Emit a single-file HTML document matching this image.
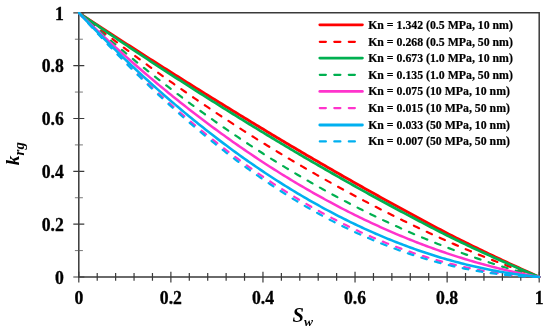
<!DOCTYPE html>
<html><head><meta charset="utf-8"><title>krg vs Sw</title>
<style>html,body{margin:0;padding:0;background:#fff}svg{display:block}</style></head>
<body>
<svg width="550" height="330" viewBox="0 0 550 330">
<rect width="550" height="330" fill="#fff"/>
<g stroke="#3a3a3a" stroke-width="1.5" fill="none">
<path d="M78.8 12.8 H539.2 V277.0 H78.8 Z"/>
<path stroke-width="1.2" d="M78.80 271.8 V282.4 M97.22 273.1 V280.7 M115.63 273.1 V280.7 M134.05 273.1 V280.7 M152.46 273.1 V280.7 M170.88 271.8 V282.4 M189.30 273.1 V280.7 M207.71 273.1 V280.7 M226.13 273.1 V280.7 M244.54 273.1 V280.7 M262.96 271.8 V282.4 M281.38 273.1 V280.7 M299.79 273.1 V280.7 M318.21 273.1 V280.7 M336.62 273.1 V280.7 M355.04 271.8 V282.4 M373.46 273.1 V280.7 M391.87 273.1 V280.7 M410.29 273.1 V280.7 M428.70 273.1 V280.7 M447.12 271.8 V282.4 M465.54 273.1 V280.7 M483.95 273.1 V280.7 M502.37 273.1 V280.7 M520.78 273.1 V280.7 M539.20 271.8 V282.4 M73.3 277.00 H84.3 M73.3 224.16 H84.3 M73.3 171.32 H84.3 M73.3 118.48 H84.3 M73.3 65.64 H84.3 M73.3 12.80 H84.3"/>
<path stroke-width="0.8" stroke="#555" d="M74.9 250.58 H82.9 M74.9 197.74 H82.9 M74.9 144.90 H82.9 M74.9 92.06 H82.9 M74.9 39.22 H82.9"/>
</g>
<defs><clipPath id="pa"><rect x="78.0" y="12.1" width="600" height="400"/></clipPath></defs>
<g clip-path="url(#pa)">
<path d="M78.80,12.80 L81.10,14.32 L83.40,15.84 L85.71,17.36 L88.01,18.87 L90.31,20.38 L92.61,21.89 L94.91,23.40 L97.22,24.91 L99.52,26.42 L101.82,27.92 L104.12,29.42 L106.42,30.92 L108.73,32.42 L111.03,33.92 L113.33,35.41 L115.63,36.91 L117.93,38.40 L120.24,39.89 L122.54,41.38 L124.84,42.87 L127.14,44.35 L129.44,45.83 L131.75,47.32 L134.05,48.80 L136.35,50.27 L138.65,51.75 L140.95,53.23 L143.26,54.70 L145.56,56.17 L147.86,57.64 L150.16,59.11 L152.46,60.57 L154.77,62.04 L157.07,63.50 L159.37,64.96 L161.67,66.42 L163.97,67.88 L166.28,69.34 L168.58,70.79 L170.88,72.24 L173.18,73.70 L175.48,75.15 L177.79,76.59 L180.09,78.04 L182.39,79.49 L184.69,80.93 L186.99,82.37 L189.30,83.81 L191.60,85.25 L193.90,86.69 L196.20,88.13 L198.50,89.56 L200.81,91.00 L203.11,92.43 L205.41,93.86 L207.71,95.29 L210.01,96.72 L212.32,98.14 L214.62,99.57 L216.92,100.99 L219.22,102.41 L221.52,103.83 L223.83,105.25 L226.13,106.67 L228.43,108.08 L230.73,109.50 L233.03,110.91 L235.34,112.32 L237.64,113.73 L239.94,115.13 L242.24,116.54 L244.54,117.94 L246.85,119.35 L249.15,120.75 L251.45,122.15 L253.75,123.54 L256.05,124.94 L258.36,126.33 L260.66,127.72 L262.96,129.11 L265.26,130.50 L267.56,131.89 L269.87,133.27 L272.17,134.66 L274.47,136.04 L276.77,137.41 L279.07,138.79 L281.38,140.16 L283.68,141.54 L285.98,142.91 L288.28,144.28 L290.58,145.64 L292.89,147.00 L295.19,148.37 L297.49,149.73 L299.79,151.08 L302.09,152.44 L304.40,153.79 L306.70,155.14 L309.00,156.49 L311.30,157.83 L313.60,159.18 L315.91,160.52 L318.21,161.86 L320.51,163.19 L322.81,164.53 L325.11,165.86 L327.42,167.19 L329.72,168.52 L332.02,169.84 L334.32,171.16 L336.62,172.49 L338.93,173.80 L341.23,175.12 L343.53,176.43 L345.83,177.75 L348.13,179.06 L350.44,180.36 L352.74,181.67 L355.04,182.97 L357.34,184.27 L359.64,185.57 L361.95,186.87 L364.25,188.16 L366.55,189.45 L368.85,190.74 L371.15,192.03 L373.46,193.31 L375.76,194.59 L378.06,195.87 L380.36,197.15 L382.66,198.42 L384.97,199.69 L387.27,200.96 L389.57,202.23 L391.87,203.49 L394.17,204.75 L396.48,206.01 L398.78,207.26 L401.08,208.52 L403.38,209.77 L405.68,211.02 L407.99,212.26 L410.29,213.51 L412.59,214.75 L414.89,216.00 L417.19,217.24 L419.50,218.47 L421.80,219.72 L424.10,220.96 L426.40,222.21 L428.70,223.46 L431.01,224.71 L433.31,225.95 L435.61,227.19 L437.91,228.43 L440.21,229.65 L442.52,230.86 L444.82,232.06 L447.12,233.25 L449.42,234.43 L451.72,235.60 L454.03,236.76 L456.33,237.93 L458.63,239.08 L460.93,240.23 L463.23,241.38 L465.54,242.53 L467.84,243.66 L470.14,244.80 L472.44,245.93 L474.74,247.05 L477.05,248.17 L479.35,249.29 L481.65,250.40 L483.95,251.51 L486.25,252.62 L488.56,253.72 L490.86,254.81 L493.16,255.91 L495.46,256.99 L497.76,258.08 L500.07,259.16 L502.37,260.24 L504.67,261.31 L506.97,262.38 L509.27,263.45 L511.58,264.51 L513.88,265.57 L516.18,266.63 L518.48,267.68 L520.78,268.73 L523.09,269.78 L525.39,270.82 L527.69,271.86 L529.99,272.89 L532.29,273.92 L534.60,274.95 L536.90,275.98 L539.20,277.00" fill="none" stroke="#ff0000" stroke-width="2.9" stroke-linecap="round" stroke-linejoin="round"/>
<path d="M78.80,12.80 L81.10,14.62 L83.40,16.44 L85.71,18.26 L88.01,20.07 L90.31,21.87 L92.61,23.67 L94.91,25.47 L97.22,27.26 L99.52,29.04 L101.82,30.82 L104.12,32.60 L106.42,34.37 L108.73,36.13 L111.03,37.89 L113.33,39.64 L115.63,41.39 L117.93,43.14 L120.24,44.87 L122.54,46.61 L124.84,48.34 L127.14,50.06 L129.44,51.78 L131.75,53.49 L134.05,55.20 L136.35,56.91 L138.65,58.60 L140.95,60.30 L143.26,61.98 L145.56,63.67 L147.86,65.35 L150.16,67.02 L152.46,68.69 L154.77,70.35 L157.07,72.01 L159.37,73.66 L161.67,75.31 L163.97,76.95 L166.28,78.59 L168.58,80.22 L170.88,81.85 L173.18,83.47 L175.48,85.09 L177.79,86.70 L180.09,88.31 L182.39,89.91 L184.69,91.51 L186.99,93.10 L189.30,94.69 L191.60,96.27 L193.90,97.85 L196.20,99.42 L198.50,100.99 L200.81,102.55 L203.11,104.11 L205.41,105.66 L207.71,107.21 L210.01,108.75 L212.32,110.29 L214.62,111.83 L216.92,113.35 L219.22,114.88 L221.52,116.40 L223.83,117.91 L226.13,119.42 L228.43,120.92 L230.73,122.42 L233.03,123.91 L235.34,125.40 L237.64,126.89 L239.94,128.36 L242.24,129.84 L244.54,131.31 L246.85,132.77 L249.15,134.23 L251.45,135.68 L253.75,137.13 L256.05,138.58 L258.36,140.01 L260.66,141.45 L262.96,142.88 L265.26,144.30 L267.56,145.72 L269.87,147.13 L272.17,148.54 L274.47,149.95 L276.77,151.35 L279.07,152.74 L281.38,154.13 L283.68,155.51 L285.98,156.89 L288.28,158.26 L290.58,159.63 L292.89,161.00 L295.19,162.36 L297.49,163.71 L299.79,165.06 L302.09,166.40 L304.40,167.74 L306.70,169.07 L309.00,170.40 L311.30,171.73 L313.60,173.04 L315.91,174.36 L318.21,175.67 L320.51,176.97 L322.81,178.27 L325.11,179.57 L327.42,180.86 L329.72,182.15 L332.02,183.43 L334.32,184.70 L336.62,185.97 L338.93,187.24 L341.23,188.50 L343.53,189.76 L345.83,191.01 L348.13,192.26 L350.44,193.50 L352.74,194.74 L355.04,195.97 L357.34,197.20 L359.64,198.42 L361.95,199.64 L364.25,200.85 L366.55,202.05 L368.85,203.26 L371.15,204.45 L373.46,205.64 L375.76,206.83 L378.06,208.01 L380.36,209.18 L382.66,210.35 L384.97,211.52 L387.27,212.68 L389.57,213.84 L391.87,214.99 L394.17,216.13 L396.48,217.27 L398.78,218.41 L401.08,219.54 L403.38,220.67 L405.68,221.79 L407.99,222.90 L410.29,224.01 L412.59,225.12 L414.89,226.22 L417.19,227.31 L419.50,228.40 L421.80,229.48 L424.10,230.56 L426.40,231.64 L428.70,232.71 L431.01,233.77 L433.31,234.83 L435.61,235.88 L437.91,236.93 L440.21,237.97 L442.52,239.01 L444.82,240.04 L447.12,241.07 L449.42,242.09 L451.72,243.11 L454.03,244.12 L456.33,245.13 L458.63,246.13 L460.93,247.12 L463.23,248.11 L465.54,249.10 L467.84,250.08 L470.14,251.05 L472.44,252.01 L474.74,252.97 L477.05,253.92 L479.35,254.87 L481.65,255.80 L483.95,256.73 L486.25,257.66 L488.56,258.57 L490.86,259.48 L493.16,260.38 L495.46,261.27 L497.76,262.16 L500.07,263.03 L502.37,263.90 L504.67,264.77 L506.97,265.63 L509.27,266.48 L511.58,267.33 L513.88,268.17 L516.18,269.00 L518.48,269.83 L520.78,270.65 L523.09,271.46 L525.39,272.27 L527.69,273.08 L529.99,273.87 L532.29,274.66 L534.60,275.45 L536.90,276.23 L539.20,277.00" fill="none" stroke="#ff0000" stroke-width="2.2" stroke-linecap="round" stroke-linejoin="round" stroke-dasharray="5.7 8.51"/>
<path d="M78.80,12.80 L81.10,14.39 L83.40,15.99 L85.71,17.58 L88.01,19.16 L90.31,20.75 L92.61,22.33 L94.91,23.91 L97.22,25.48 L99.52,27.06 L101.82,28.63 L104.12,30.19 L106.42,31.76 L108.73,33.32 L111.03,34.88 L113.33,36.44 L115.63,38.00 L117.93,39.55 L120.24,41.10 L122.54,42.64 L124.84,44.19 L127.14,45.73 L129.44,47.27 L131.75,48.81 L134.05,50.34 L136.35,51.87 L138.65,53.40 L140.95,54.93 L143.26,56.45 L145.56,57.97 L147.86,59.49 L150.16,61.01 L152.46,62.52 L154.77,64.03 L157.07,65.54 L159.37,67.05 L161.67,68.55 L163.97,70.05 L166.28,71.55 L168.58,73.05 L170.88,74.54 L173.18,76.03 L175.48,77.52 L177.79,79.00 L180.09,80.49 L182.39,81.97 L184.69,83.45 L186.99,84.93 L189.30,86.40 L191.60,87.87 L193.90,89.35 L196.20,90.81 L198.50,92.28 L200.81,93.74 L203.11,95.21 L205.41,96.67 L207.71,98.12 L210.01,99.58 L212.32,101.03 L214.62,102.48 L216.92,103.93 L219.22,105.38 L221.52,106.82 L223.83,108.27 L226.13,109.71 L228.43,111.15 L230.73,112.58 L233.03,114.01 L235.34,115.45 L237.64,116.87 L239.94,118.30 L242.24,119.72 L244.54,121.15 L246.85,122.57 L249.15,123.98 L251.45,125.40 L253.75,126.81 L256.05,128.22 L258.36,129.63 L260.66,131.03 L262.96,132.43 L265.26,133.83 L267.56,135.23 L269.87,136.63 L272.17,138.02 L274.47,139.41 L276.77,140.79 L279.07,142.18 L281.38,143.56 L283.68,144.94 L285.98,146.31 L288.28,147.69 L290.58,149.06 L292.89,150.42 L295.19,151.79 L297.49,153.15 L299.79,154.51 L302.09,155.86 L304.40,157.22 L306.70,158.56 L309.00,159.91 L311.30,161.25 L313.60,162.60 L315.91,163.93 L318.21,165.27 L320.51,166.60 L322.81,167.93 L325.11,169.26 L327.42,170.59 L329.72,171.91 L332.02,173.23 L334.32,174.54 L336.62,175.86 L338.93,177.17 L341.23,178.48 L343.53,179.78 L345.83,181.09 L348.13,182.39 L350.44,183.68 L352.74,184.98 L355.04,186.27 L357.34,187.56 L359.64,188.84 L361.95,190.12 L364.25,191.40 L366.55,192.68 L368.85,193.95 L371.15,195.22 L373.46,196.49 L375.76,197.75 L378.06,199.01 L380.36,200.27 L382.66,201.53 L384.97,202.78 L387.27,204.02 L389.57,205.27 L391.87,206.51 L394.17,207.75 L396.48,208.98 L398.78,210.22 L401.08,211.45 L403.38,212.67 L405.68,213.90 L407.99,215.12 L410.29,216.34 L412.59,217.55 L414.89,218.76 L417.19,219.97 L419.50,221.18 L421.80,222.38 L424.10,223.59 L426.40,224.80 L428.70,226.00 L431.01,227.21 L433.31,228.40 L435.61,229.60 L437.91,230.78 L440.21,231.96 L442.52,233.13 L444.82,234.29 L447.12,235.43 L449.42,236.57 L451.72,237.70 L454.03,238.83 L456.33,239.95 L458.63,241.07 L460.93,242.18 L463.23,243.29 L465.54,244.39 L467.84,245.49 L470.14,246.58 L472.44,247.66 L474.74,248.74 L477.05,249.82 L479.35,250.89 L481.65,251.95 L483.95,253.01 L486.25,254.06 L488.56,255.10 L490.86,256.14 L493.16,257.18 L495.46,258.21 L497.76,259.23 L500.07,260.25 L502.37,261.27 L504.67,262.28 L506.97,263.28 L509.27,264.29 L511.58,265.29 L513.88,266.28 L516.18,267.28 L518.48,268.26 L520.78,269.25 L523.09,270.23 L525.39,271.21 L527.69,272.18 L529.99,273.15 L532.29,274.12 L534.60,275.08 L536.90,276.04 L539.20,277.00" fill="none" stroke="#00b050" stroke-width="2.7" stroke-linecap="round" stroke-linejoin="round"/>
<path d="M78.80,12.80 L81.10,14.85 L83.40,16.89 L85.71,18.92 L88.01,20.94 L90.31,22.96 L92.61,24.97 L94.91,26.98 L97.22,28.97 L99.52,30.96 L101.82,32.94 L104.12,34.92 L106.42,36.88 L108.73,38.84 L111.03,40.80 L113.33,42.74 L115.63,44.68 L117.93,46.61 L120.24,48.53 L122.54,50.45 L124.84,52.36 L127.14,54.26 L129.44,56.15 L131.75,58.04 L134.05,59.92 L136.35,61.79 L138.65,63.65 L140.95,65.51 L143.26,67.36 L145.56,69.21 L147.86,71.04 L150.16,72.87 L152.46,74.69 L154.77,76.50 L157.07,78.31 L159.37,80.11 L161.67,81.90 L163.97,83.69 L166.28,85.46 L168.58,87.23 L170.88,88.99 L173.18,90.75 L175.48,92.50 L177.79,94.24 L180.09,95.97 L182.39,97.70 L184.69,99.42 L186.99,101.13 L189.30,102.83 L191.60,104.53 L193.90,106.22 L196.20,107.90 L198.50,109.58 L200.81,111.24 L203.11,112.90 L205.41,114.56 L207.71,116.20 L210.01,117.84 L212.32,119.47 L214.62,121.10 L216.92,122.71 L219.22,124.32 L221.52,125.92 L223.83,127.52 L226.13,129.11 L228.43,130.69 L230.73,132.26 L233.03,133.82 L235.34,135.38 L237.64,136.93 L239.94,138.48 L242.24,140.01 L244.54,141.54 L246.85,143.06 L249.15,144.58 L251.45,146.09 L253.75,147.59 L256.05,149.08 L258.36,150.56 L260.66,152.04 L262.96,153.51 L265.26,154.98 L267.56,156.43 L269.87,157.88 L272.17,159.32 L274.47,160.76 L276.77,162.18 L279.07,163.60 L281.38,165.01 L283.68,166.42 L285.98,167.82 L288.28,169.21 L290.58,170.59 L292.89,171.97 L295.19,173.33 L297.49,174.70 L299.79,176.05 L302.09,177.40 L304.40,178.74 L306.70,180.07 L309.00,181.39 L311.30,182.71 L313.60,184.02 L315.91,185.32 L318.21,186.62 L320.51,187.91 L322.81,189.19 L325.11,190.46 L327.42,191.73 L329.72,192.99 L332.02,194.24 L334.32,195.48 L336.62,196.72 L338.93,197.95 L341.23,199.17 L343.53,200.39 L345.83,201.59 L348.13,202.79 L350.44,203.99 L352.74,205.17 L355.04,206.35 L357.34,207.52 L359.64,208.69 L361.95,209.84 L364.25,210.99 L366.55,212.14 L368.85,213.27 L371.15,214.40 L373.46,215.52 L375.76,216.63 L378.06,217.74 L380.36,218.84 L382.66,219.93 L384.97,221.01 L387.27,222.09 L389.57,223.16 L391.87,224.22 L394.17,225.27 L396.48,226.32 L398.78,227.36 L401.08,228.39 L403.38,229.42 L405.68,230.44 L407.99,231.45 L410.29,232.45 L412.59,233.45 L414.89,234.44 L417.19,235.42 L419.50,236.39 L421.80,237.36 L424.10,238.32 L426.40,239.27 L428.70,240.22 L431.01,241.15 L433.31,242.08 L435.61,243.01 L437.91,243.92 L440.21,244.83 L442.52,245.73 L444.82,246.63 L447.12,247.51 L449.42,248.39 L451.72,249.27 L454.03,250.13 L456.33,250.99 L458.63,251.84 L460.93,252.68 L463.23,253.52 L465.54,254.35 L467.84,255.17 L470.14,255.98 L472.44,256.79 L474.74,257.59 L477.05,258.38 L479.35,259.16 L481.65,259.94 L483.95,260.71 L486.25,261.47 L488.56,262.23 L490.86,262.98 L493.16,263.72 L495.46,264.45 L497.76,265.18 L500.07,265.90 L502.37,266.61 L504.67,267.31 L506.97,268.01 L509.27,268.70 L511.58,269.38 L513.88,270.06 L516.18,270.72 L518.48,271.38 L520.78,272.04 L523.09,272.68 L525.39,273.32 L527.69,273.95 L529.99,274.58 L532.29,275.19 L534.60,275.80 L536.90,276.41 L539.20,277.00" fill="none" stroke="#00b050" stroke-width="2.2" stroke-linecap="round" stroke-linejoin="round" stroke-dasharray="5.7 8.51"/>
<path d="M78.80,12.80 L81.10,15.03 L83.40,17.25 L85.71,19.46 L88.01,21.66 L90.31,23.85 L92.61,26.03 L94.91,28.20 L97.22,30.36 L99.52,32.52 L101.82,34.66 L104.12,36.80 L106.42,38.93 L108.73,41.05 L111.03,43.16 L113.33,45.26 L115.63,47.35 L117.93,49.43 L120.24,51.50 L122.54,53.56 L124.84,55.62 L127.14,57.66 L129.44,59.70 L131.75,61.73 L134.05,63.75 L136.35,65.75 L138.65,67.75 L140.95,69.74 L143.26,71.73 L145.56,73.70 L147.86,75.66 L150.16,77.62 L152.46,79.56 L154.77,81.50 L157.07,83.42 L159.37,85.34 L161.67,87.25 L163.97,89.15 L166.28,91.04 L168.58,92.92 L170.88,94.79 L173.18,96.66 L175.48,98.51 L177.79,100.35 L180.09,102.19 L182.39,104.02 L184.69,105.83 L186.99,107.64 L189.30,109.44 L191.60,111.23 L193.90,113.01 L196.20,114.79 L198.50,116.55 L200.81,118.30 L203.11,120.05 L205.41,121.78 L207.71,123.51 L210.01,125.23 L212.32,126.93 L214.62,128.63 L216.92,130.32 L219.22,132.00 L221.52,133.68 L223.83,135.34 L226.13,136.99 L228.43,138.64 L230.73,140.27 L233.03,141.90 L235.34,143.52 L237.64,145.12 L239.94,146.72 L242.24,148.31 L244.54,149.89 L246.85,151.46 L249.15,153.03 L251.45,154.58 L253.75,156.12 L256.05,157.66 L258.36,159.19 L260.66,160.70 L262.96,162.21 L265.26,163.71 L267.56,165.20 L269.87,166.68 L272.17,168.15 L274.47,169.61 L276.77,171.06 L279.07,172.51 L281.38,173.94 L283.68,175.37 L285.98,176.79 L288.28,178.19 L290.58,179.59 L292.89,180.98 L295.19,182.36 L297.49,183.73 L299.79,185.09 L302.09,186.45 L304.40,187.79 L306.70,189.13 L309.00,190.45 L311.30,191.77 L313.60,193.08 L315.91,194.37 L318.21,195.66 L320.51,196.94 L322.81,198.21 L325.11,199.48 L327.42,200.73 L329.72,201.97 L332.02,203.21 L334.32,204.43 L336.62,205.65 L338.93,206.85 L341.23,208.05 L343.53,209.24 L345.83,210.42 L348.13,211.59 L350.44,212.75 L352.74,213.91 L355.04,215.05 L357.34,216.18 L359.64,217.31 L361.95,218.43 L364.25,219.53 L366.55,220.63 L368.85,221.72 L371.15,222.80 L373.46,223.87 L375.76,224.93 L378.06,225.98 L380.36,227.03 L382.66,228.06 L384.97,229.08 L387.27,230.10 L389.57,231.11 L391.87,232.10 L394.17,233.09 L396.48,234.07 L398.78,235.04 L401.08,236.00 L403.38,236.96 L405.68,237.90 L407.99,238.83 L410.29,239.76 L412.59,240.67 L414.89,241.58 L417.19,242.48 L419.50,243.36 L421.80,244.24 L424.10,245.11 L426.40,245.97 L428.70,246.83 L431.01,247.67 L433.31,248.50 L435.61,249.33 L437.91,250.14 L440.21,250.95 L442.52,251.75 L444.82,252.53 L447.12,253.31 L449.42,254.08 L451.72,254.84 L454.03,255.60 L456.33,256.34 L458.63,257.07 L460.93,257.80 L463.23,258.51 L465.54,259.22 L467.84,259.91 L470.14,260.60 L472.44,261.28 L474.74,261.95 L477.05,262.61 L479.35,263.26 L481.65,263.90 L483.95,264.54 L486.25,265.16 L488.56,265.78 L490.86,266.38 L493.16,266.98 L495.46,267.57 L497.76,268.14 L500.07,268.71 L502.37,269.27 L504.67,269.83 L506.97,270.37 L509.27,270.90 L511.58,271.42 L513.88,271.94 L516.18,272.44 L518.48,272.94 L520.78,273.43 L523.09,273.91 L525.39,274.38 L527.69,274.84 L529.99,275.29 L532.29,275.73 L534.60,276.16 L536.90,276.59 L539.20,277.00" fill="none" stroke="#ff33cc" stroke-width="2.5" stroke-linecap="round" stroke-linejoin="round"/>
<path d="M78.80,12.80 L81.10,15.33 L83.40,17.84 L85.71,20.34 L88.01,22.83 L90.31,25.31 L92.61,27.78 L94.91,30.23 L97.22,32.68 L99.52,35.11 L101.82,37.52 L104.12,39.93 L106.42,42.32 L108.73,44.70 L111.03,47.07 L113.33,49.43 L115.63,51.78 L117.93,54.11 L120.24,56.43 L122.54,58.74 L124.84,61.03 L127.14,63.32 L129.44,65.59 L131.75,67.85 L134.05,70.10 L136.35,72.34 L138.65,74.56 L140.95,76.77 L143.26,78.97 L145.56,81.16 L147.86,83.33 L150.16,85.50 L152.46,87.65 L154.77,89.79 L157.07,91.91 L159.37,94.03 L161.67,96.13 L163.97,98.22 L166.28,100.30 L168.58,102.37 L170.88,104.42 L173.18,106.46 L175.48,108.49 L177.79,110.51 L180.09,112.52 L182.39,114.51 L184.69,116.49 L186.99,118.46 L189.30,120.42 L191.60,122.36 L193.90,124.30 L196.20,126.22 L198.50,128.13 L200.81,130.02 L203.11,131.91 L205.41,133.78 L207.71,135.64 L210.01,137.49 L212.32,139.33 L214.62,141.15 L216.92,142.96 L219.22,144.76 L221.52,146.55 L223.83,148.32 L226.13,150.09 L228.43,151.84 L230.73,153.58 L233.03,155.30 L235.34,157.02 L237.64,158.72 L239.94,160.41 L242.24,162.09 L244.54,163.76 L246.85,165.41 L249.15,167.05 L251.45,168.68 L253.75,170.30 L256.05,171.91 L258.36,173.50 L260.66,175.08 L262.96,176.65 L265.26,178.21 L267.56,179.76 L269.87,181.29 L272.17,182.81 L274.47,184.32 L276.77,185.81 L279.07,187.30 L281.38,188.77 L283.68,190.23 L285.98,191.68 L288.28,193.12 L290.58,194.54 L292.89,195.95 L295.19,197.35 L297.49,198.74 L299.79,200.12 L302.09,201.48 L304.40,202.83 L306.70,204.17 L309.00,205.50 L311.30,206.81 L313.60,208.11 L315.91,209.40 L318.21,210.68 L320.51,211.95 L322.81,213.20 L325.11,214.45 L327.42,215.68 L329.72,216.89 L332.02,218.10 L334.32,219.29 L336.62,220.48 L338.93,221.65 L341.23,222.80 L343.53,223.95 L345.83,225.08 L348.13,226.20 L350.44,227.31 L352.74,228.41 L355.04,229.49 L357.34,230.57 L359.64,231.63 L361.95,232.67 L364.25,233.71 L366.55,234.73 L368.85,235.75 L371.15,236.75 L373.46,237.73 L375.76,238.71 L378.06,239.67 L380.36,240.62 L382.66,241.56 L384.97,242.49 L387.27,243.41 L389.57,244.31 L391.87,245.20 L394.17,246.08 L396.48,246.94 L398.78,247.80 L401.08,248.64 L403.38,249.47 L405.68,250.29 L407.99,251.10 L410.29,251.89 L412.59,252.67 L414.89,253.44 L417.19,254.20 L419.50,254.94 L421.80,255.68 L424.10,256.40 L426.40,257.11 L428.70,257.80 L431.01,258.49 L433.31,259.16 L435.61,259.82 L437.91,260.47 L440.21,261.11 L442.52,261.73 L444.82,262.34 L447.12,262.94 L449.42,263.53 L451.72,264.11 L454.03,264.67 L456.33,265.22 L458.63,265.76 L460.93,266.29 L463.23,266.80 L465.54,267.30 L467.84,267.80 L470.14,268.27 L472.44,268.74 L474.74,269.20 L477.05,269.64 L479.35,270.07 L481.65,270.49 L483.95,270.89 L486.25,271.29 L488.56,271.67 L490.86,272.04 L493.16,272.39 L495.46,272.74 L497.76,273.07 L500.07,273.39 L502.37,273.70 L504.67,274.00 L506.97,274.29 L509.27,274.56 L511.58,274.82 L513.88,275.07 L516.18,275.30 L518.48,275.53 L520.78,275.74 L523.09,275.94 L525.39,276.13 L527.69,276.30 L529.99,276.47 L532.29,276.62 L534.60,276.76 L536.90,276.88 L539.20,277.00" fill="none" stroke="#ff33cc" stroke-width="2.2" stroke-linecap="round" stroke-linejoin="round" stroke-dasharray="5.7 8.51"/>
<path d="M78.80,12.80 L81.10,15.22 L83.40,17.63 L85.71,20.02 L88.01,22.41 L90.31,24.78 L92.61,27.14 L94.91,29.50 L97.22,31.84 L99.52,34.17 L101.82,36.49 L104.12,38.79 L106.42,41.09 L108.73,43.38 L111.03,45.65 L113.33,47.91 L115.63,50.17 L117.93,52.41 L120.24,54.64 L122.54,56.86 L124.84,59.07 L127.14,61.27 L129.44,63.45 L131.75,65.63 L134.05,67.79 L136.35,69.95 L138.65,72.09 L140.95,74.22 L143.26,76.34 L145.56,78.45 L147.86,80.55 L150.16,82.64 L152.46,84.71 L154.77,86.78 L157.07,88.83 L159.37,90.87 L161.67,92.91 L163.97,94.93 L166.28,96.94 L168.58,98.94 L170.88,100.93 L173.18,102.90 L175.48,104.87 L177.79,106.82 L180.09,108.77 L182.39,110.70 L184.69,112.62 L186.99,114.53 L189.30,116.43 L191.60,118.32 L193.90,120.20 L196.20,122.07 L198.50,123.92 L200.81,125.77 L203.11,127.60 L205.41,129.42 L207.71,131.24 L210.01,133.04 L212.32,134.83 L214.62,136.60 L216.92,138.37 L219.22,140.13 L221.52,141.87 L223.83,143.61 L226.13,145.33 L228.43,147.04 L230.73,148.75 L233.03,150.44 L235.34,152.12 L237.64,153.78 L239.94,155.44 L242.24,157.09 L244.54,158.72 L246.85,160.35 L249.15,161.96 L251.45,163.56 L253.75,165.15 L256.05,166.73 L258.36,168.30 L260.66,169.86 L262.96,171.41 L265.26,172.94 L267.56,174.47 L269.87,175.98 L272.17,177.49 L274.47,178.98 L276.77,180.46 L279.07,181.93 L281.38,183.39 L283.68,184.84 L285.98,186.27 L288.28,187.70 L290.58,189.11 L292.89,190.52 L295.19,191.91 L297.49,193.29 L299.79,194.66 L302.09,196.02 L304.40,197.37 L306.70,198.71 L309.00,200.03 L311.30,201.35 L313.60,202.65 L315.91,203.95 L318.21,205.23 L320.51,206.50 L322.81,207.76 L325.11,209.01 L327.42,210.25 L329.72,211.48 L332.02,212.69 L334.32,213.90 L336.62,215.09 L338.93,216.27 L341.23,217.45 L343.53,218.61 L345.83,219.76 L348.13,220.90 L350.44,222.03 L352.74,223.14 L355.04,224.25 L357.34,225.34 L359.64,226.43 L361.95,227.50 L364.25,228.56 L366.55,229.61 L368.85,230.65 L371.15,231.68 L373.46,232.70 L375.76,233.71 L378.06,234.70 L380.36,235.69 L382.66,236.66 L384.97,237.62 L387.27,238.57 L389.57,239.51 L391.87,240.44 L394.17,241.36 L396.48,242.27 L398.78,243.17 L401.08,244.05 L403.38,244.93 L405.68,245.79 L407.99,246.64 L410.29,247.48 L412.59,248.31 L414.89,249.13 L417.19,249.94 L419.50,250.74 L421.80,251.52 L424.10,252.30 L426.40,253.06 L428.70,253.82 L431.01,254.56 L433.31,255.29 L435.61,256.01 L437.91,256.72 L440.21,257.42 L442.52,258.10 L444.82,258.78 L447.12,259.45 L449.42,260.10 L451.72,260.74 L454.03,261.37 L456.33,261.99 L458.63,262.60 L460.93,263.20 L463.23,263.79 L465.54,264.37 L467.84,264.93 L470.14,265.49 L472.44,266.03 L474.74,266.56 L477.05,267.09 L479.35,267.60 L481.65,268.10 L483.95,268.58 L486.25,269.06 L488.56,269.53 L490.86,269.98 L493.16,270.43 L495.46,270.86 L497.76,271.28 L500.07,271.70 L502.37,272.10 L504.67,272.48 L506.97,272.86 L509.27,273.23 L511.58,273.59 L513.88,273.93 L516.18,274.27 L518.48,274.59 L520.78,274.90 L523.09,275.20 L525.39,275.49 L527.69,275.77 L529.99,276.04 L532.29,276.30 L534.60,276.54 L536.90,276.78 L539.20,277.00" fill="none" stroke="#00b0f0" stroke-width="2.55" stroke-linecap="round" stroke-linejoin="round"/>
<path d="M78.80,12.80 L81.10,15.38 L83.40,17.95 L85.71,20.51 L88.01,23.05 L90.31,25.59 L92.61,28.10 L94.91,30.61 L97.22,33.10 L99.52,35.59 L101.82,38.05 L104.12,40.51 L106.42,42.95 L108.73,45.38 L111.03,47.80 L113.33,50.21 L115.63,52.60 L117.93,54.98 L120.24,57.34 L122.54,59.70 L124.84,62.04 L127.14,64.37 L129.44,66.68 L131.75,68.99 L134.05,71.28 L136.35,73.56 L138.65,75.82 L140.95,78.08 L143.26,80.32 L145.56,82.54 L147.86,84.76 L150.16,86.96 L152.46,89.15 L154.77,91.33 L157.07,93.49 L159.37,95.64 L161.67,97.78 L163.97,99.91 L166.28,102.02 L168.58,104.12 L170.88,106.21 L173.18,108.28 L175.48,110.35 L177.79,112.40 L180.09,114.43 L182.39,116.46 L184.69,118.47 L186.99,120.47 L189.30,122.46 L191.60,124.43 L193.90,126.39 L196.20,128.34 L198.50,130.28 L200.81,132.20 L203.11,134.11 L205.41,136.01 L207.71,137.89 L210.01,139.76 L212.32,141.62 L214.62,143.47 L216.92,145.31 L219.22,147.13 L221.52,148.94 L223.83,150.73 L226.13,152.52 L228.43,154.29 L230.73,156.05 L233.03,157.79 L235.34,159.52 L237.64,161.25 L239.94,162.95 L242.24,164.65 L244.54,166.33 L246.85,168.00 L249.15,169.66 L251.45,171.30 L253.75,172.93 L256.05,174.55 L258.36,176.16 L260.66,177.75 L262.96,179.33 L265.26,180.90 L267.56,182.46 L269.87,184.00 L272.17,185.53 L274.47,187.05 L276.77,188.55 L279.07,190.04 L281.38,191.52 L283.68,192.99 L285.98,194.44 L288.28,195.89 L290.58,197.31 L292.89,198.73 L295.19,200.13 L297.49,201.52 L299.79,202.90 L302.09,204.27 L304.40,205.62 L306.70,206.96 L309.00,208.29 L311.30,209.60 L313.60,210.90 L315.91,212.19 L318.21,213.47 L320.51,214.73 L322.81,215.99 L325.11,217.22 L327.42,218.45 L329.72,219.66 L332.02,220.86 L334.32,222.05 L336.62,223.23 L338.93,224.39 L341.23,225.54 L343.53,226.68 L345.83,227.80 L348.13,228.91 L350.44,230.01 L352.74,231.10 L355.04,232.17 L357.34,233.23 L359.64,234.28 L361.95,235.32 L364.25,236.34 L366.55,237.35 L368.85,238.35 L371.15,239.33 L373.46,240.31 L375.76,241.27 L378.06,242.21 L380.36,243.15 L382.66,244.07 L384.97,244.98 L387.27,245.87 L389.57,246.76 L391.87,247.63 L394.17,248.49 L396.48,249.33 L398.78,250.17 L401.08,250.99 L403.38,251.79 L405.68,252.59 L407.99,253.37 L410.29,254.14 L412.59,254.90 L414.89,255.64 L417.19,256.37 L419.50,257.09 L421.80,257.80 L424.10,258.49 L426.40,259.17 L428.70,259.84 L431.01,260.50 L433.31,261.14 L435.61,261.77 L437.91,262.39 L440.21,262.99 L442.52,263.58 L444.82,264.16 L447.12,264.73 L449.42,265.28 L451.72,265.82 L454.03,266.35 L456.33,266.87 L458.63,267.37 L460.93,267.86 L463.23,268.34 L465.54,268.81 L467.84,269.26 L470.14,269.70 L472.44,270.12 L474.74,270.54 L477.05,270.94 L479.35,271.33 L481.65,271.71 L483.95,272.07 L486.25,272.42 L488.56,272.76 L490.86,273.09 L493.16,273.40 L495.46,273.70 L497.76,273.99 L500.07,274.26 L502.37,274.53 L504.67,274.78 L506.97,275.01 L509.27,275.24 L511.58,275.45 L513.88,275.65 L516.18,275.83 L518.48,276.01 L520.78,276.17 L523.09,276.32 L525.39,276.45 L527.69,276.58 L529.99,276.69 L532.29,276.78 L534.60,276.87 L536.90,276.94 L539.20,277.00" fill="none" stroke="#00b0f0" stroke-width="2.2" stroke-linecap="round" stroke-linejoin="round" stroke-dasharray="5.7 8.51"/>
</g>
<g font-family="'Liberation Serif', serif" font-weight="bold" font-size="17.7" fill="#000" stroke="#000" stroke-width="0.3">
<text transform="translate(78.8,303.70) scale(1,1.12)" text-anchor="middle">0</text>
<text transform="translate(170.9,303.70) scale(1,1.12)" text-anchor="middle">0.2</text>
<text transform="translate(263.0,303.70) scale(1,1.12)" text-anchor="middle">0.4</text>
<text transform="translate(355.0,303.70) scale(1,1.12)" text-anchor="middle">0.6</text>
<text transform="translate(447.1,303.70) scale(1,1.12)" text-anchor="middle">0.8</text>
<text transform="translate(539.2,303.70) scale(1,1.12)" text-anchor="middle">1</text>
<text transform="translate(63.8,283.80) scale(1,1.12)" text-anchor="end">0</text>
<text transform="translate(63.8,230.96) scale(1,1.12)" text-anchor="end">0.2</text>
<text transform="translate(63.8,178.12) scale(1,1.12)" text-anchor="end">0.4</text>
<text transform="translate(63.8,125.28) scale(1,1.12)" text-anchor="end">0.6</text>
<text transform="translate(63.8,72.44) scale(1,1.12)" text-anchor="end">0.8</text>
<text transform="translate(63.8,19.60) scale(1,1.12)" text-anchor="end">1</text>
</g>
<g font-family="'Liberation Serif', serif" font-weight="bold" font-style="italic" fill="#000">
<text x="292.5" y="321.6" font-size="20.5">S<tspan font-size="13.5" dy="4.6">w</tspan></text>
<text transform="translate(18.8,165.2) rotate(-90)" font-size="19.5">k<tspan font-size="15" dy="5">rg</tspan></text>
</g>
<g font-family="'Liberation Serif', serif" font-weight="bold" font-size="11.8" fill="#000" stroke="#000" stroke-width="0.2">
<path d="M319.8 24.80 H362.4" stroke="#ff0000" stroke-width="2.8" stroke-linecap="round" fill="none"/>
<text x="368.2" y="28.70">Kn = 1.342 (0.5 MPa, 10 nm)</text>
<path d="M319.8 41.80 H362" stroke="#ff0000" stroke-width="2.2" stroke-linecap="round" stroke-dasharray="6.1 8.4" fill="none"/>
<text x="368.2" y="45.70">Kn = 0.268 (0.5 MPa, 50 nm)</text>
<path d="M319.8 58.10 H362.4" stroke="#00b050" stroke-width="2.8" stroke-linecap="round" fill="none"/>
<text x="368.2" y="62.00">Kn = 0.673 (1.0 MPa, 10 nm)</text>
<path d="M319.8 74.80 H362" stroke="#00b050" stroke-width="2.2" stroke-linecap="round" stroke-dasharray="6.1 8.4" fill="none"/>
<text x="368.2" y="78.70">Kn = 0.135 (1.0 MPa, 50 nm)</text>
<path d="M319.8 91.40 H362.4" stroke="#ff33cc" stroke-width="2.8" stroke-linecap="round" fill="none"/>
<text x="368.2" y="95.30">Kn = 0.075 (10 MPa, 10 nm)</text>
<path d="M319.8 108.10 H362" stroke="#ff33cc" stroke-width="2.2" stroke-linecap="round" stroke-dasharray="6.1 8.4" fill="none"/>
<text x="368.2" y="112.00">Kn = 0.015 (10 MPa, 50 nm)</text>
<path d="M319.8 125.00 H362.4" stroke="#00b0f0" stroke-width="2.8" stroke-linecap="round" fill="none"/>
<text x="368.2" y="128.90">Kn = 0.033 (50 MPa, 10 nm)</text>
<path d="M319.8 141.45 H362" stroke="#00b0f0" stroke-width="2.2" stroke-linecap="round" stroke-dasharray="6.1 8.4" fill="none"/>
<text x="368.2" y="145.35">Kn = 0.007 (50 MPa, 50 nm)</text>
</g>
</svg>
</body></html>
